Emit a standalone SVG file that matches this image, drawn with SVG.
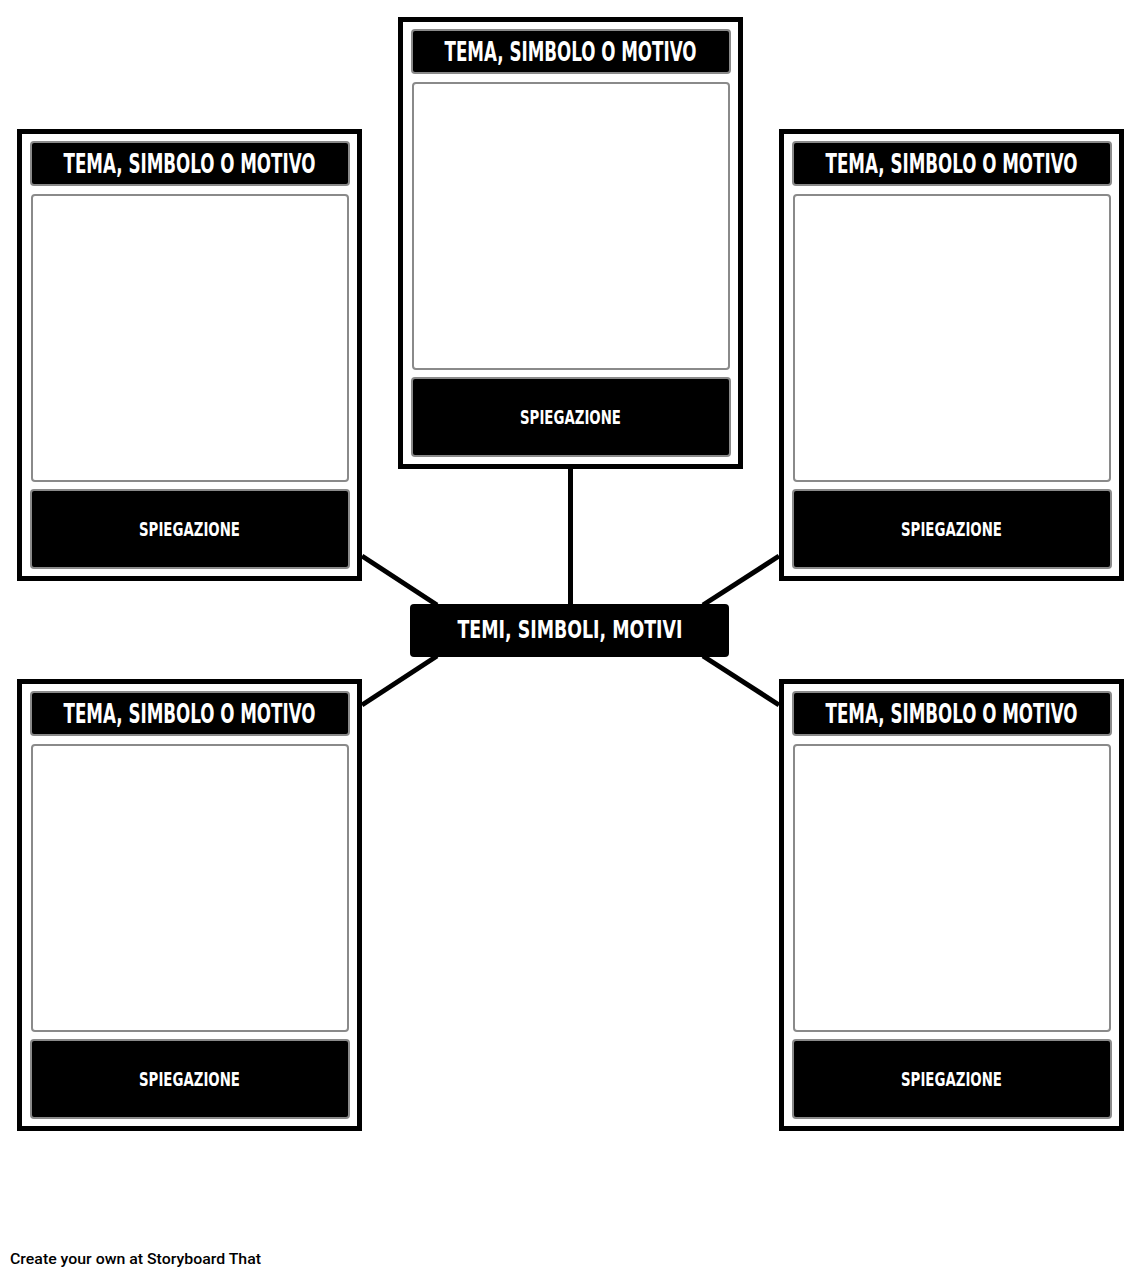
<svg xmlns="http://www.w3.org/2000/svg" xmlns:xlink="http://www.w3.org/1999/xlink" width="1143" height="1278" viewBox="0 0 1143 1278">
<style>
.frame{fill:#fff;stroke:#000;stroke-width:5}
.bar{fill:#000;stroke:#8a8a8a;stroke-width:2}
.img{fill:#fff;stroke:#8a8a8a;stroke-width:2}
.t{fill:#fff;font-family:"DejaVu Sans Condensed","DejaVu Sans",sans-serif;font-stretch:condensed;font-weight:bold;text-anchor:middle}
.conn{stroke:#000;stroke-width:5;fill:none}
.foot{font-family:Roboto,"Liberation Sans",sans-serif;font-size:15px;font-weight:500;fill:#000}
</style>
<defs>
<g id="card">
<rect class="frame" x="2.5" y="2.5" width="340" height="447"/>
<rect class="bar" x="14" y="13" width="318" height="43" rx="3"/>
<rect class="img" x="15" y="66" width="316" height="286" rx="3"/>
<rect class="bar" x="14" y="361" width="318" height="78" rx="3"/>
<text class="t" x="172.5" y="44" font-size="26" textLength="252" lengthAdjust="spacingAndGlyphs">TEMA, SIMBOLO O MOTIVO</text>
<text class="t" x="172.5" y="407" font-size="19" textLength="101" lengthAdjust="spacingAndGlyphs">SPIEGAZIONE</text>
</g>
</defs>
<rect width="1143" height="1278" fill="#fff"/>
<g id="connectors">
<line class="conn" x1="570.5" y1="469" x2="570.5" y2="606"/>
<line class="conn" x1="362" y1="556" x2="437" y2="605"/>
<line class="conn" x1="362" y1="705" x2="437" y2="656"/>
<line class="conn" x1="779" y1="556" x2="703" y2="605"/>
<line class="conn" x1="779" y1="705" x2="703" y2="656"/>
</g>
<g id="card-top"><use xlink:href="#card" transform="translate(398,17)"/></g>
<g id="card-left-top"><use xlink:href="#card" transform="translate(17,129)"/></g>
<g id="card-right-top"><use xlink:href="#card" transform="translate(779,129)"/></g>
<g id="card-left-bottom"><use xlink:href="#card" transform="translate(17,679)"/></g>
<g id="card-right-bottom"><use xlink:href="#card" transform="translate(779,679)"/></g>
<g id="center">
<rect x="410" y="604" width="319" height="53" rx="4" fill="#000"/>
<text class="t" x="570" y="638" font-size="25" textLength="225" lengthAdjust="spacingAndGlyphs">TEMI, SIMBOLI, MOTIVI</text>
</g>
<text class="foot" x="10" y="1264" textLength="251" lengthAdjust="spacingAndGlyphs">Create your own at Storyboard That</text>
</svg>
